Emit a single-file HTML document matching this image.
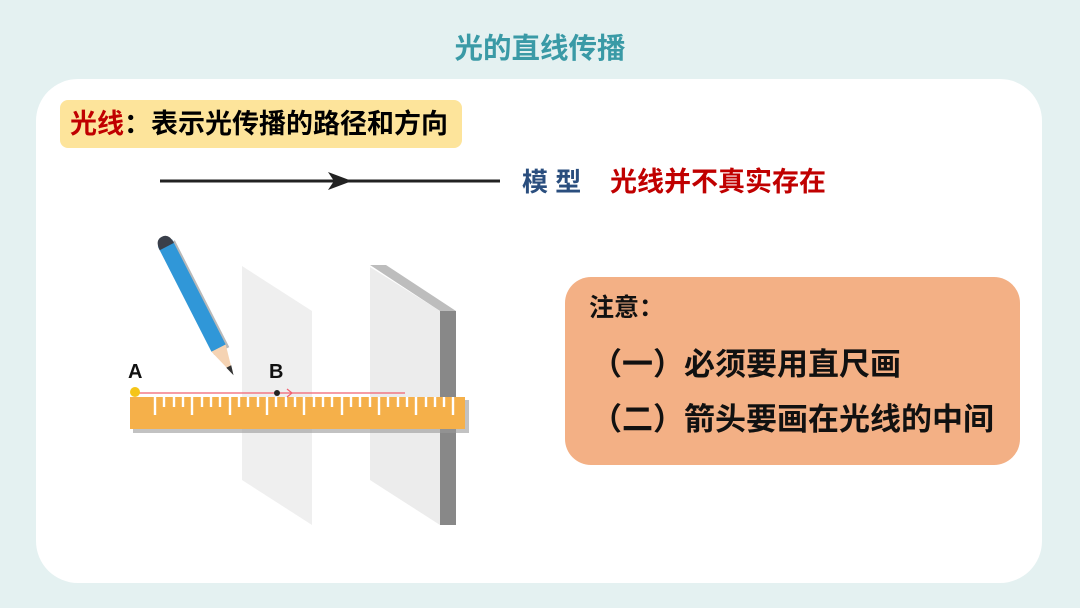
<!DOCTYPE html>
<html><head><meta charset="utf-8"><style>
*{margin:0;padding:0;box-sizing:border-box}
body{width:1080px;height:608px;background:#e4f1f1;position:relative;overflow:hidden;font-family:"Liberation Sans","Noto Sans CJK SC",sans-serif;font-weight:bold}
.a{position:absolute;white-space:nowrap}
</style></head><body>
<div class="a" style="left:0;top:30px;width:1080px;text-align:center;font-size:28.5px;color:#3a9aa6;line-height:38px">光的直线传播</div>
<div class="a" style="left:36px;top:79px;width:1006px;height:504px;background:#fff;border-radius:42px"></div>
<div class="a" style="left:60px;top:100px;width:402px;height:48px;background:#fde49b;border-radius:8px"></div>
<div class="a" style="left:70px;top:106px;font-size:27px;line-height:36px;color:#000"><span style="color:#c00000">光线</span>：表示光传播的路径和方向</div>
<svg class="a" style="left:0;top:0" width="1080" height="608">
<line x1="160" y1="181" x2="500" y2="181" stroke="#222" stroke-width="3"/>
<polygon points="328,172 352,181 328,190 334,181" fill="#222"/>
<polygon points="242,266 312,311 312,525 242,480" fill="#efefef"/>
<polygon points="370,265 386,265 456,311 440,311" fill="#bdbdbd"/>
<polygon points="370,267 440,311 440,525 370,480" fill="#ececec"/>
<rect x="440" y="311" width="16" height="214" fill="#888"/>
<rect x="133" y="400" width="336" height="33" fill="#9a9a9a" opacity="0.6"/>
<rect x="130" y="397" width="335" height="32" fill="#f5b04a"/>
<g stroke="#fff" stroke-width="2.4">
<line x1="155" y1="397" x2="155" y2="415"/><line x1="164" y1="397" x2="164" y2="407"/><line x1="174" y1="397" x2="174" y2="407"/><line x1="183" y1="397" x2="183" y2="407"/><line x1="192" y1="397" x2="192" y2="415"/><line x1="202" y1="397" x2="202" y2="407"/><line x1="211" y1="397" x2="211" y2="407"/><line x1="220" y1="397" x2="220" y2="407"/><line x1="230" y1="397" x2="230" y2="415"/><line x1="239" y1="397" x2="239" y2="407"/><line x1="248" y1="397" x2="248" y2="407"/><line x1="258" y1="397" x2="258" y2="407"/><line x1="267" y1="397" x2="267" y2="415"/><line x1="276" y1="397" x2="276" y2="407"/><line x1="286" y1="397" x2="286" y2="407"/><line x1="295" y1="397" x2="295" y2="407"/><line x1="304" y1="397" x2="304" y2="415"/><line x1="314" y1="397" x2="314" y2="407"/><line x1="323" y1="397" x2="323" y2="407"/><line x1="332" y1="397" x2="332" y2="407"/><line x1="342" y1="397" x2="342" y2="415"/><line x1="351" y1="397" x2="351" y2="407"/><line x1="360" y1="397" x2="360" y2="407"/><line x1="370" y1="397" x2="370" y2="407"/><line x1="379" y1="397" x2="379" y2="415"/><line x1="388" y1="397" x2="388" y2="407"/><line x1="398" y1="397" x2="398" y2="407"/><line x1="407" y1="397" x2="407" y2="407"/><line x1="416" y1="397" x2="416" y2="415"/><line x1="426" y1="397" x2="426" y2="407"/><line x1="435" y1="397" x2="435" y2="407"/><line x1="444" y1="397" x2="444" y2="407"/><line x1="453" y1="397" x2="453" y2="415"/>
</g>
<line x1="135" y1="393" x2="405" y2="393" stroke="#f06070" stroke-width="1.2"/>
<polyline points="287,389 292,393 287,397" fill="none" stroke="#f06070" stroke-width="1.2"/>
<circle cx="135" cy="392" r="5" fill="#f5c518"/>
<circle cx="277" cy="393" r="3" fill="#222"/>
<text x="128" y="378" font-size="20" font-family="Liberation Sans" font-weight="bold" fill="#111">A</text>
<text x="269" y="378" font-size="20" font-family="Liberation Sans" font-weight="bold" fill="#111">B</text>
<g transform="translate(165,243) rotate(-27)">
<rect x="-7" y="2" width="17" height="120" fill="#8a8a8a" opacity="0.6"/>
<rect x="-8" y="0" width="16" height="118" fill="#3097d8"/>
<path d="M-8 4 Q-8 -7 0 -7 Q8 -7 8 4 Z" fill="#3a3f4a"/>
<polygon points="-8,118 8,118 1,148" fill="#f5d3b3"/>
<polygon points="-2,139 3.5,139 1,149" fill="#333"/>
</g>
</svg>
<div class="a" style="left:522px;top:165px;font-size:26px;line-height:34px;color:#2a4e7e">模 型</div>
<div class="a" style="left:610px;top:165px;font-size:27px;line-height:34px;color:#c00000">光线并不真实存在</div>
<div class="a" style="left:565px;top:277px;width:455px;height:188px;background:#f3b085;border-radius:26px"></div>
<div class="a" style="left:589px;top:290px;font-size:25px;line-height:36px;color:#111">注意：</div>
<div class="a" style="left:591px;top:345px;font-size:31px;line-height:40px;color:#111">（一）必须要用直尺画</div>
<div class="a" style="left:591px;top:400px;font-size:31px;line-height:40px;color:#111">（二）箭头要画在光线的中间</div>
</body></html>
